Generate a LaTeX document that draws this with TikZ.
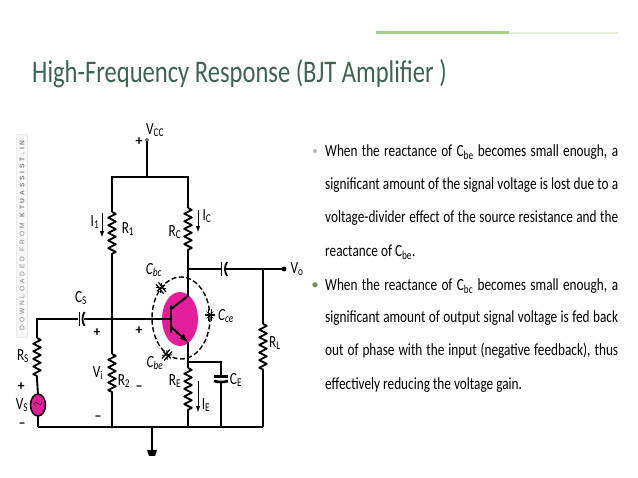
\documentclass[tikz,border=0pt]{standalone}
\usepackage{fontspec}
\setmainfont{Carlito}
\newfontfamily\narrowfont[FakeStretch=0.78]{Carlito}
\newfontfamily\markfont{Liberation Sans}
\usetikzlibrary{decorations.pathmorphing,shapes.geometric}
\definecolor{titlegreen}{HTML}{3F6351}
\definecolor{barfull}{HTML}{A9CF8F}
\definecolor{barpale}{HTML}{E4EEDA}
\definecolor{bjtpink}{HTML}{E41E9B}
\tikzset{
  wire/.style={line width=1.9pt},
  rail/.style={line width=2.9pt},
  res/.style={line width=1.8pt,line join=round,decorate,
    decoration={zigzag,segment length=7.6pt,amplitude=3.8pt}},
  lab/.style={inner sep=0pt,font=\narrowfont\fontsize{17}{17}\selectfont},
  sign/.style={inner sep=0pt,font=\bfseries\fontsize{14}{14}\selectfont},
  bodyline/.style={anchor=base west,inner sep=0pt,font=\narrowfont\fontsize{17}{17}\selectfont},
  capmark/.pic={
    \draw[line width=1.3pt] (-1.5,-6) -- (-1.5,6) (1.5,-6) -- (1.5,6) (-5,0) -- (5,0);
    \draw[line width=.7pt] (-3.5,-3.5) -- (3.5,3.5) (-3.5,3.5) -- (3.5,-3.5);
  }
}
\newcommand{\linew}[1]{\makebox[293pt][s]{#1}}
\begin{document}
\begin{tikzpicture}[x=1pt,y=-1pt]
\useasboundingbox (0,0) rectangle (638,478);
% top bar and title
\coordinate (barA) at (376,33);
\coordinate (barB) at (509,33);
\coordinate (barC) at (618,33);
\draw[barpale,line width=1.6pt] (barB) -- (barC);
\draw[barfull,line width=3pt] (barA) -- (barB);
\node[anchor=base west,inner sep=0pt,text=titlegreen,font=\narrowfont\fontsize{31.5}{32}\selectfont] (title) at (32,83)
  {High-Frequency Response (BJT Amplifier )};
% watermark
\node[draw=black!8,fill=black!3,line width=.8pt,minimum width=203pt,minimum height=11pt,inner sep=0pt,rotate=90,
  text=black!50,font=\markfont\fontsize{6.6}{7}\selectfont] (mark) at (22,235.5)
  {\makebox[190pt][s]{D\hfil O\hfil W\hfil N\hfil L\hfil O\hfil A\hfil D\hfil E\hfil D\hfil\hfil F\hfil R\hfil O\hfil M\hfil\hfil \textbf{K\hfil T\hfil U\hfil A\hfil S\hfil S\hfil I\hfil S\hfil T\hfil .\hfil I\hfil N}}};
% circuit points
\coordinate (vcc) at (147,140);
\coordinate (topm) at (147,177);
\coordinate (topl) at (112,177);
\coordinate (topr) at (188,177);
\coordinate (r1a) at (112,212);
\coordinate (r1b) at (112,254);
\coordinate (r2a) at (112,354);
\coordinate (r2b) at (112,395);
\coordinate (botm) at (112,427);
\coordinate (bot) at (38,427);
\coordinate (rca) at (188,208);
\coordinate (rcb) at (188,250);
\coordinate (out) at (188,269);
\coordinate (rlt) at (263,269);
\coordinate (vo) at (284,269);
\coordinate (rla) at (263,324);
\coordinate (rlb) at (263,372);
\coordinate (botr) at (263,427);
\coordinate (coll) at (188,296);
\coordinate (emit) at (188,342);
\coordinate (emtop) at (188,362);
\coordinate (rea) at (188,368);
\coordinate (reb) at (188,410);
\coordinate (rebot) at (188,427);
\coordinate (cetop) at (221,362);
\coordinate (cebot) at (221,427);
\coordinate (gnd) at (152,427);
\coordinate (gndb) at (152,451);
\coordinate (srcl) at (37,319);
\coordinate (rsa) at (37,338);
\coordinate (rsb) at (37,379);
\coordinate (base) at (171,319);
% transistor
\node[ellipse,fill=bjtpink,minimum width=36pt,minimum height=54pt,inner sep=0pt] (bjt) at (180,319) {};
\node[ellipse,draw,line width=1.4pt,dash pattern=on 5pt off 2.5pt,minimum width=58pt,minimum height=82pt,inner sep=0pt] (ring) at (181,318) {};
\draw[line width=2.6pt] (171,305) -- (171,333);
\draw[wire] (171,309) -- (coll) -- (out);
\draw[wire,-latex] (171,327) -- (emit);
\draw[wire] (emit) -- (emtop);
% wires
\draw[wire] (vcc) -- (topm);
\node[circle,draw,fill=white,line width=.6pt,minimum size=3pt,inner sep=0pt] (vccdot) at (vcc) {};
\draw[rail] (r1a) -- (topl) -- (topr) -- (rca);
\draw[res] (r1a) -- (r1b);
\draw[wire] (r1b) -- (r2a);
\draw[res] (r2a) -- (r2b);
\draw[rail] (r2b) -- (botm);
\draw[res] (rca) -- (rcb);
\draw[wire] (rcb) -- (out);
\draw[wire] (out) -- (221,269) (225,269) -- (vo);
\draw[line width=1.8pt] (221.5,262) -- (221.5,276);
\draw[line width=1.8pt] (227,262) to[bend right=30] (227,276);
\fill (vo) circle (2.4pt);
\draw[wire] (rlt) -- (rla);
\draw[res] (rla) -- (rlb);
\draw[rail] (rlb) -- (botr);
\draw[rail] (bot) -- (botr);
\draw[rail] (emtop) -- (cetop) -- (221,376);
\draw[line width=3pt] (214,377) -- (228,377);
\draw[line width=2.6pt] (214,381) to[bend right=15] (228,381);
\draw[rail] (221,381) -- (cebot);
\draw[res] (rea) -- (reb);
\draw[wire] (emtop) -- (rea) (reb) -- (rebot);
\draw[wire] (gnd) -- (gndb);
\fill (147,450) -- (157,450) -- (155,456) -- (149,456) -- cycle;
\draw[rail] (rsa) -- (srcl) -- (78,319) (84,319) -- (base);
\draw[line width=1.8pt] (79.5,312) -- (79.5,326);
\draw[line width=1.8pt] (84.5,312) to[bend right=30] (84.5,326);
\draw[res] (rsa) -- (rsb);
\draw[wire] (rsb) -- (38,395);
\draw[rail] (38,415) -- (bot);
\node[ellipse,draw,fill=bjtpink,line width=1.5pt,minimum width=15pt,minimum height=22pt,inner sep=0pt,font=\boldmath\fontsize{10}{10}\selectfont] (vsrc) at (38,405) {$\sim$};
% small caps
\pic[rotate=38] at (161,288) {capmark};
\pic at (210,315) {capmark};
\pic[rotate=-42] at (167,355) {capmark};
% current arrows
\coordinate (iia) at (102,213); \coordinate (iib) at (102,237);
\coordinate (ica) at (198,210); \coordinate (icb) at (198,232);
\coordinate (iea) at (198,381); \coordinate (ieb) at (198,412);
\draw[line width=1pt,-latex] (iia) -- (iib);
\draw[line width=1pt,-latex] (ica) -- (icb);
\draw[line width=1pt,-latex] (iea) -- (ieb);
% labels
\node[lab] (lvcc) at (155,130) {V\textsubscript{CC}};
\node[sign] (pvcc) at (139,142) {+};
\node[lab] (li) at (95,222) {I\textsubscript{1}};
\node[lab] (lra) at (128,229) {R\textsubscript{1}};
\node[lab] (lic) at (207,216) {I\textsubscript{C}};
\node[lab] (lrc) at (175,232) {R\textsubscript{C}};
\node[lab] (lcbc) at (154,270) {\itshape C\textsubscript{bc}};
\node[lab] (lcce) at (226,316) {\itshape C\textsubscript{ce}};
\node[lab] (lcbe) at (155,363) {\itshape C\textsubscript{be}};
\node[lab] (lvo) at (297,269) {V\textsubscript{o}};
\node[lab] (lrl) at (275,343) {R\textsubscript{L}};
\node[lab] (lce) at (236,380) {C\textsubscript{E}};
\node[lab] (lre) at (175,381) {R\textsubscript{E}};
\node[lab] (lie) at (206,405) {I\textsubscript{E}};
\node[lab] (lcs) at (81,298) {C\textsubscript{S}};
\node[lab] (lrs) at (23,356) {R\textsubscript{S}};
\node[lab] (lvs) at (22,405) {V\textsubscript{S}};
\node[lab] (lvi) at (98,373) {V\textsubscript{i}};
\node[lab] (lrb) at (124,381) {R\textsubscript{2}};
\node[sign] (ps) at (21,387) {+};
\node[sign] (ms) at (22,425) {--};
\node[sign] (pa) at (97,333) {+};
\node[sign] (pb) at (139,331) {+};
\node[sign] (ma) at (98,418) {--};
\node[sign] (mb) at (139,388) {--};
% text
\node[text=black!30,inner sep=0pt,font=\fontsize{11}{11}\selectfont] (bulla) at (315,152) {•};
\node[text=barfull!70!black,inner sep=0pt,font=\fontsize{15}{15}\selectfont] (bullb) at (315,286) {•};
\node[bodyline] (la) at (325,157) {\linew{When the reactance of C\textsubscript{be} becomes small enough, a}};
\node[bodyline] (lb) at (325,190) {\linew{significant amount of the signal voltage is lost due to a}};
\node[bodyline] (lc) at (325,223) {\linew{voltage-divider effect of the source resistance and the}};
\node[bodyline] (ld) at (325,257) {reactance of C\textsubscript{be}.};
\node[bodyline] (le) at (325,291) {\linew{When the reactance of C\textsubscript{bc} becomes small enough, a}};
\node[bodyline] (lf) at (325,323) {\linew{significant amount of output signal voltage is fed back}};
\node[bodyline] (lg) at (325,356) {\linew{out of phase with the input (negative feedback), thus}};
\node[bodyline] (lh) at (325,390) {effectively reducing the voltage gain.};
\end{tikzpicture}
\end{document}
